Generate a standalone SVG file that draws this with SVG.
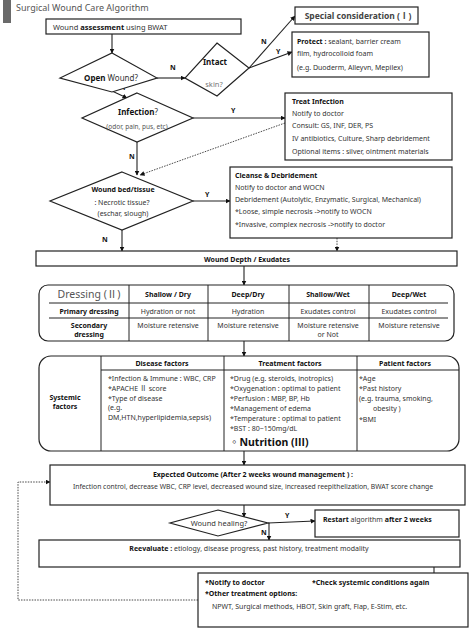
<svg xmlns="http://www.w3.org/2000/svg" width="474" height="632" viewBox="0 0 474 632">
<defs>
<marker id="ah" viewBox="0 0 10 10" refX="9" refY="5" markerWidth="5" markerHeight="5" orient="auto" markerUnits="userSpaceOnUse">
<path d="M0,0 L10,5 L0,10 z" fill="#111"/>
</marker>
<style>
text{font-family:"Noto Sans","Noto Sans CJK KR",sans-serif;font-size:7px;fill:#333}
.b{font-weight:bold;fill:#111}
.m{text-anchor:middle}
.box{fill:#fff;stroke:#222;stroke-width:1.2}
.ln{fill:none;stroke:#222;stroke-width:1.1}
.arr{fill:none;stroke:#222;stroke-width:1.1;marker-end:url(#ah)}
.dash{fill:none;stroke:#333;stroke-width:0.9;stroke-dasharray:1.5 1.2}
.lbl{font-size:7px;font-weight:bold;fill:#111}
.grid{fill:none;stroke:#222;stroke-width:1}
</style>
</defs>
<rect width="474" height="632" fill="#fff"/>
<g id="title">
<rect x="3" y="0" width="8" height="23" fill="#6a6a6a"/>
<text x="16" y="11" style="font-size:9px;fill:#555">Surgical Wound Care Algorithm</text>
</g>
<g id="connectors">
<line class="arr" x1="112" y1="34" x2="112" y2="53"/>
<line class="arr" x1="157" y1="78" x2="185" y2="78"/>
<text class="lbl" x="170" y="70">N</text>
<line class="arr" x1="249" y1="68" x2="295" y2="16"/>
<text class="lbl" x="261" y="44">N</text>
<line class="arr" x1="249" y1="68" x2="292" y2="52"/>
<text class="lbl" x="276" y="54">Y</text>
<line class="arr" x1="112" y1="91" x2="127" y2="98"/>
<text class="lbl" x="122" y="90">Y</text>
<line class="arr" x1="193" y1="118" x2="285" y2="118"/>
<text class="lbl" x="231" y="113">Y</text>
<line class="arr" x1="137" y1="142" x2="137" y2="175"/>
<text class="lbl" x="129" y="159">N</text>
<line class="dash" x1="285" y1="123" x2="140" y2="175" marker-end="url(#ah)"/>
<line class="arr" x1="193" y1="201" x2="230" y2="201"/>
<text class="lbl" x="205" y="197">Y</text>
<line class="arr" x1="122" y1="230" x2="122" y2="251"/>
<text class="lbl" x="102" y="242">N</text>
<line class="dash" x1="337" y1="238" x2="337" y2="251" marker-end="url(#ah)"/>
<line class="arr" x1="244" y1="266" x2="244" y2="285"/>
<line class="arr" x1="244" y1="341" x2="244" y2="356"/>
<line class="arr" x1="244" y1="451" x2="244" y2="465"/>
<line class="arr" x1="244" y1="505" x2="244" y2="517"/>
<line class="arr" x1="268" y1="523" x2="315" y2="521"/>
<text class="lbl" x="285" y="518">Y</text>
<line class="arr" x1="269" y1="523" x2="269" y2="540"/>
<text class="lbl" x="261" y="535">N</text>
<line class="arr" x1="434" y1="560" x2="434" y2="583"/>
<polyline class="dash" points="198,600 18,600 18,482 50,482" marker-end="url(#ah)"/>
</g>
<g id="assessment">
<rect class="box" x="46" y="19" width="195" height="15"/>
<text x="53" y="29.5" style="font-size:7.5px">Wound <tspan class="b">assessment</tspan>  using BWAT</text>
</g>
<g id="open-wound">
<polygon class="box" points="112,53 157,78 112,92 60,78"/>
<text class="m" x="111" y="81" style="font-size:8px"><tspan class="b">Open</tspan> Wound?</text>
</g>
<g id="intact-skin">
<polygon class="box" points="217,43 249,68 217,96 185,78"/>
<text class="m b" x="215" y="65" style="font-size:8px">Intact</text>
<text class="m" x="214" y="87" style="font-size:7.5px;fill:#777">skin?</text>
</g>
<g id="special">
<rect class="box" x="295" y="7" width="123" height="17"/>
<text class="m b" x="358" y="19" style="font-size:8.5px;fill:#444">Special consideration (Ⅰ)</text>
</g>
<g id="protect">
<rect class="box" x="292" y="32" width="137" height="45"/>
<text x="297" y="43.5"><tspan class="b">Protect :</tspan> sealant, barrier cream</text>
<text x="297" y="56">film, hydrocolloid foam</text>
<text x="297" y="70">(e.g. Duoderm, Alleyvn, Mepilex)</text>
</g>
<g id="infection">
<polygon class="box" points="137,93 193,118 137,142 82,118"/>
<text class="m" x="138" y="115" style="font-size:8px"><tspan class="b">Infection</tspan>?</text>
<text class="m" x="137" y="128.5" style="font-size:6.5px;fill:#555">(odor, pain, pus, etc)</text>
</g>
<g id="treat-infection">
<rect class="box" x="285" y="93" width="167" height="67"/>
<text class="b" x="292" y="103.5">Treat  Infection</text>
<text x="292" y="115.5">Notify to doctor</text>
<text x="292" y="127.5">Consult: GS, INF, DER, PS</text>
<text x="292" y="141">IV antibiotics, Culture, Sharp debridement</text>
<text x="292" y="154">Optional items : silver, ointment materials</text>
</g>
<g id="wound-bed">
<polygon class="box" points="122,172 193,201 122,230 50,201"/>
<text class="m b" x="123" y="191.5">Wound bed/tissue</text>
<text class="m" x="122" y="204.5">: Necrotic tissue?</text>
<text class="m" x="123" y="216">(eschar, slough)</text>
</g>
<g id="cleanse">
<rect class="box" x="230" y="167" width="222" height="71"/>
<text class="b" x="235" y="177.5">Cleanse &amp; Debridement</text>
<text x="235" y="189.5">Notify to doctor and WOCN</text>
<text x="235" y="201.5">Debridement (Autolytic, Enzymatic, Surgical, Mechanical)</text>
<text x="235" y="214">*Loose, simple necrosis -&gt;notify to WOCN</text>
<text x="235" y="226.5">*Invasive, complex necrosis -&gt;notify to doctor</text>
</g>
<g id="wound-depth">
<rect class="box" x="36" y="251" width="421" height="15"/>
<text class="m b" x="247" y="261.5">Wound Depth /  Exudates</text>
</g>
<g id="dressing-table">
<rect class="box" x="39" y="285" width="415" height="56" rx="9"/>
<line class="grid" x1="49" y1="303" x2="448" y2="303"/>
<line class="grid" x1="49" y1="318" x2="448" y2="318"/>
<line class="grid" x1="129" y1="285" x2="129" y2="341"/>
<line class="grid" x1="208" y1="285" x2="208" y2="341"/>
<line class="grid" x1="289" y1="285" x2="289" y2="341"/>
<line class="grid" x1="369" y1="285" x2="369" y2="341"/>
<text class="m" x="89" y="298" style="font-size:10.5px;fill:#555">Dressing (Ⅱ)</text>
<text class="m b" x="168" y="296.5">Shallow / Dry</text>
<text class="m b" x="248" y="296.5">Deep/Dry</text>
<text class="m b" x="328" y="296.5">Shallow/Wet</text>
<text class="m b" x="409" y="296.5">Deep/Wet</text>
<text class="m b" x="89" y="314">Primary dressing</text>
<text class="m" x="168" y="314">Hydration or not</text>
<text class="m" x="248" y="314">Hydration</text>
<text class="m" x="328" y="314">Exudates control</text>
<text class="m" x="409" y="314">Exudates control</text>
<text class="m b" x="89" y="328">Secondary</text>
<text class="m b" x="89" y="336.5">dressing</text>
<text class="m" x="168" y="328">Moisture retensive</text>
<text class="m" x="248" y="328">Moisture retensive</text>
<text class="m" x="328" y="328">Moisture retensive</text>
<text class="m" x="328" y="336.5">or Not</text>
<text class="m" x="409" y="328">Moisture retensive</text>
</g>
<g id="systemic-table">
<rect class="box" x="39" y="356" width="420" height="95" rx="12"/>
<line class="grid" x1="101" y1="370" x2="459" y2="370"/>
<line class="grid" x1="101" y1="356" x2="101" y2="451"/>
<line class="grid" x1="224" y1="356" x2="224" y2="451"/>
<line class="grid" x1="357" y1="356" x2="357" y2="451"/>
<text class="m b" x="162" y="365.5">Disease factors</text>
<text class="m b" x="290" y="365.5">Treatment factors</text>
<text class="m b" x="405" y="365.5">Patient factors</text>
<text class="m b" x="65" y="400">Systemic</text>
<text class="m b" x="65" y="409">factors</text>
<text x="108" y="380.5">*Infection &amp; Immune : WBC, CRP</text>
<text x="108" y="390.5">*APACHE Ⅱ score</text>
<text x="108" y="400.5">*Type of disease</text>
<text x="108" y="410">(e.g.</text>
<text x="108" y="420">DM,HTN,hyperlipidemia,sepsis)</text>
<text x="230" y="380.5">*Drug (e.g. steroids, inotropics)</text>
<text x="230" y="390.5">*Oxygenation : optimal to patient</text>
<text x="230" y="400.5">*Perfusion : MBP, BP, Hb</text>
<text x="230" y="410.5">*Management of edema</text>
<text x="230" y="420.5">*Temperature : optimal to patient</text>
<text x="230" y="431">*BST : 80~150mg/dL</text>
<text class="b" x="229" y="446" style="font-size:10.5px">◦Nutrition (Ⅲ)</text>
<text x="359" y="380.5">*Age</text>
<text x="359" y="390.5">*Past history</text>
<text x="359" y="400.5">(e.g. trauma, smoking,</text>
<text x="373" y="410.5">obesity )</text>
<text x="359" y="422">*BMI</text>
</g>
<g id="expected-outcome">
<rect class="box" x="50" y="465" width="415" height="40"/>
<text class="m b" x="253" y="476.5">Expected Outcome (After 2 weeks wound management ) :</text>
<text class="m" x="253" y="488.5" style="font-size:6.8px">Infection control,  decrease WBC, CRP  level, decreased wound size, increased reepithelization, BWAT score change</text>
</g>
<g id="wound-healing">
<polygon class="box" points="218,510 268,523 218,536 170,523"/>
<text class="m" x="219" y="525.5" style="font-size:7.5px">Wound healing?</text>
</g>
<g id="restart">
<rect class="box" x="315" y="510" width="144" height="27"/>
<text x="323" y="521.5"><tspan class="b">Restart</tspan>  algorithm <tspan class="b">after 2 weeks</tspan></text>
</g>
<g id="reevaluate">
<rect class="box" x="39" y="540" width="421" height="27"/>
<text class="m" x="249" y="550.5"><tspan class="b">Reevaluate :</tspan> etiology, disease progress, past history, treatment modality</text>
</g>
<g id="other-options">
<rect class="box" x="198" y="573" width="270" height="54"/>
<text class="b" x="205" y="584.5">*Notify to doctor</text>
<text class="b" x="312" y="584.5">*Check systemic conditions again</text>
<text class="b" x="205" y="596">*Other treatment  options:</text>
<text x="212" y="608.5">NPWT, Surgical methods, HBOT, Skin  graft, Flap, E-Stim, etc.</text>
</g>
</svg>
